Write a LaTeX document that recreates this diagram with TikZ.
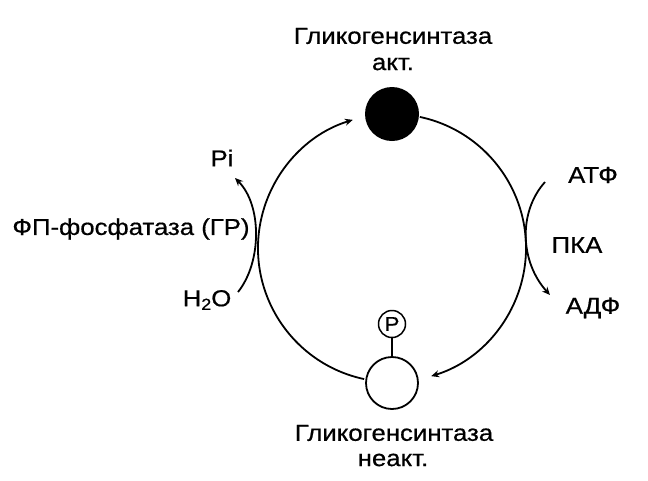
\documentclass[tikz,border=0pt]{standalone}
\usepackage{fontspec}
\setmainfont[FakeStretch=1.12,FakeBold=0.6]{Liberation Sans}
\usetikzlibrary{arrows.meta}
\begin{document}
\begin{tikzpicture}[x=1pt,y=-1pt,
  lbl/.style={font=\fontsize{23}{25}\selectfont, inner sep=0pt},
  conn/.style={line width=1.8pt},
  arr/.style={conn, -{Stealth[length=8pt,width=7pt]}}]
\useasboundingbox (0,0) rectangle (648,480);
\fill[white] (0,0) rectangle (648,480);
\coordinate (c) at (392,248);
% states
\node[circle, fill=black, minimum size=54pt, inner sep=0pt] (act) at (392,114) {};
\node[circle, draw, line width=1.8pt, minimum size=52pt, inner sep=0pt] (inact) at (392,383) {};
\node[circle, draw, line width=1.5pt, minimum size=27pt, inner sep=0pt, font=\fontsize{20}{20}\selectfont] (p) at (392,324) {P};
\draw[conn] (p) -- (inact);
% labels
\node[lbl] (t1) at (393,36) {Гликогенсинтаза};
\node[lbl] (t2) at (393,64) {акт.};
\node[lbl] (b1) at (394,433) {Гликогенсинтаза};
\node[lbl] (b2) at (393,460) {неакт.};
\node[lbl] (fp) at (131,229) {ФП-фосфатаза (ГР)};
\node[lbl] (pi) at (222,158) {Pi};
\node[lbl] (h2o) at (207,300) {H\raisebox{-0.3ex}{\fontsize{16}{16}\selectfont 2}O};
\node[lbl] (atf) at (593,175) {АТФ};
\node[lbl] (pka) at (577,245) {ПКА};
\node[lbl] (adf) at (593,308) {АДФ};
% cycle arcs (y axis points down, so angles are mirrored)
\draw[arr] ([shift={(102:134)}]c) arc[start angle=102, end angle=253, radius=134];
\draw[arr] ([shift={(-78:134)}]c) arc[start angle=-78, end angle=73, radius=134];
% enzyme arcs
\coordinate (h2oend) at (238,292);
\coordinate (piend) at (235,178);
\coordinate (atfend) at (545,182);
\coordinate (adfend) at (550,295);
\draw[arr] (h2oend) .. controls (262,262) and (262,205) .. (piend);
\draw[arr] (atfend) .. controls (518,212) and (520,262) .. (adfend);
\end{tikzpicture}
\end{document}
